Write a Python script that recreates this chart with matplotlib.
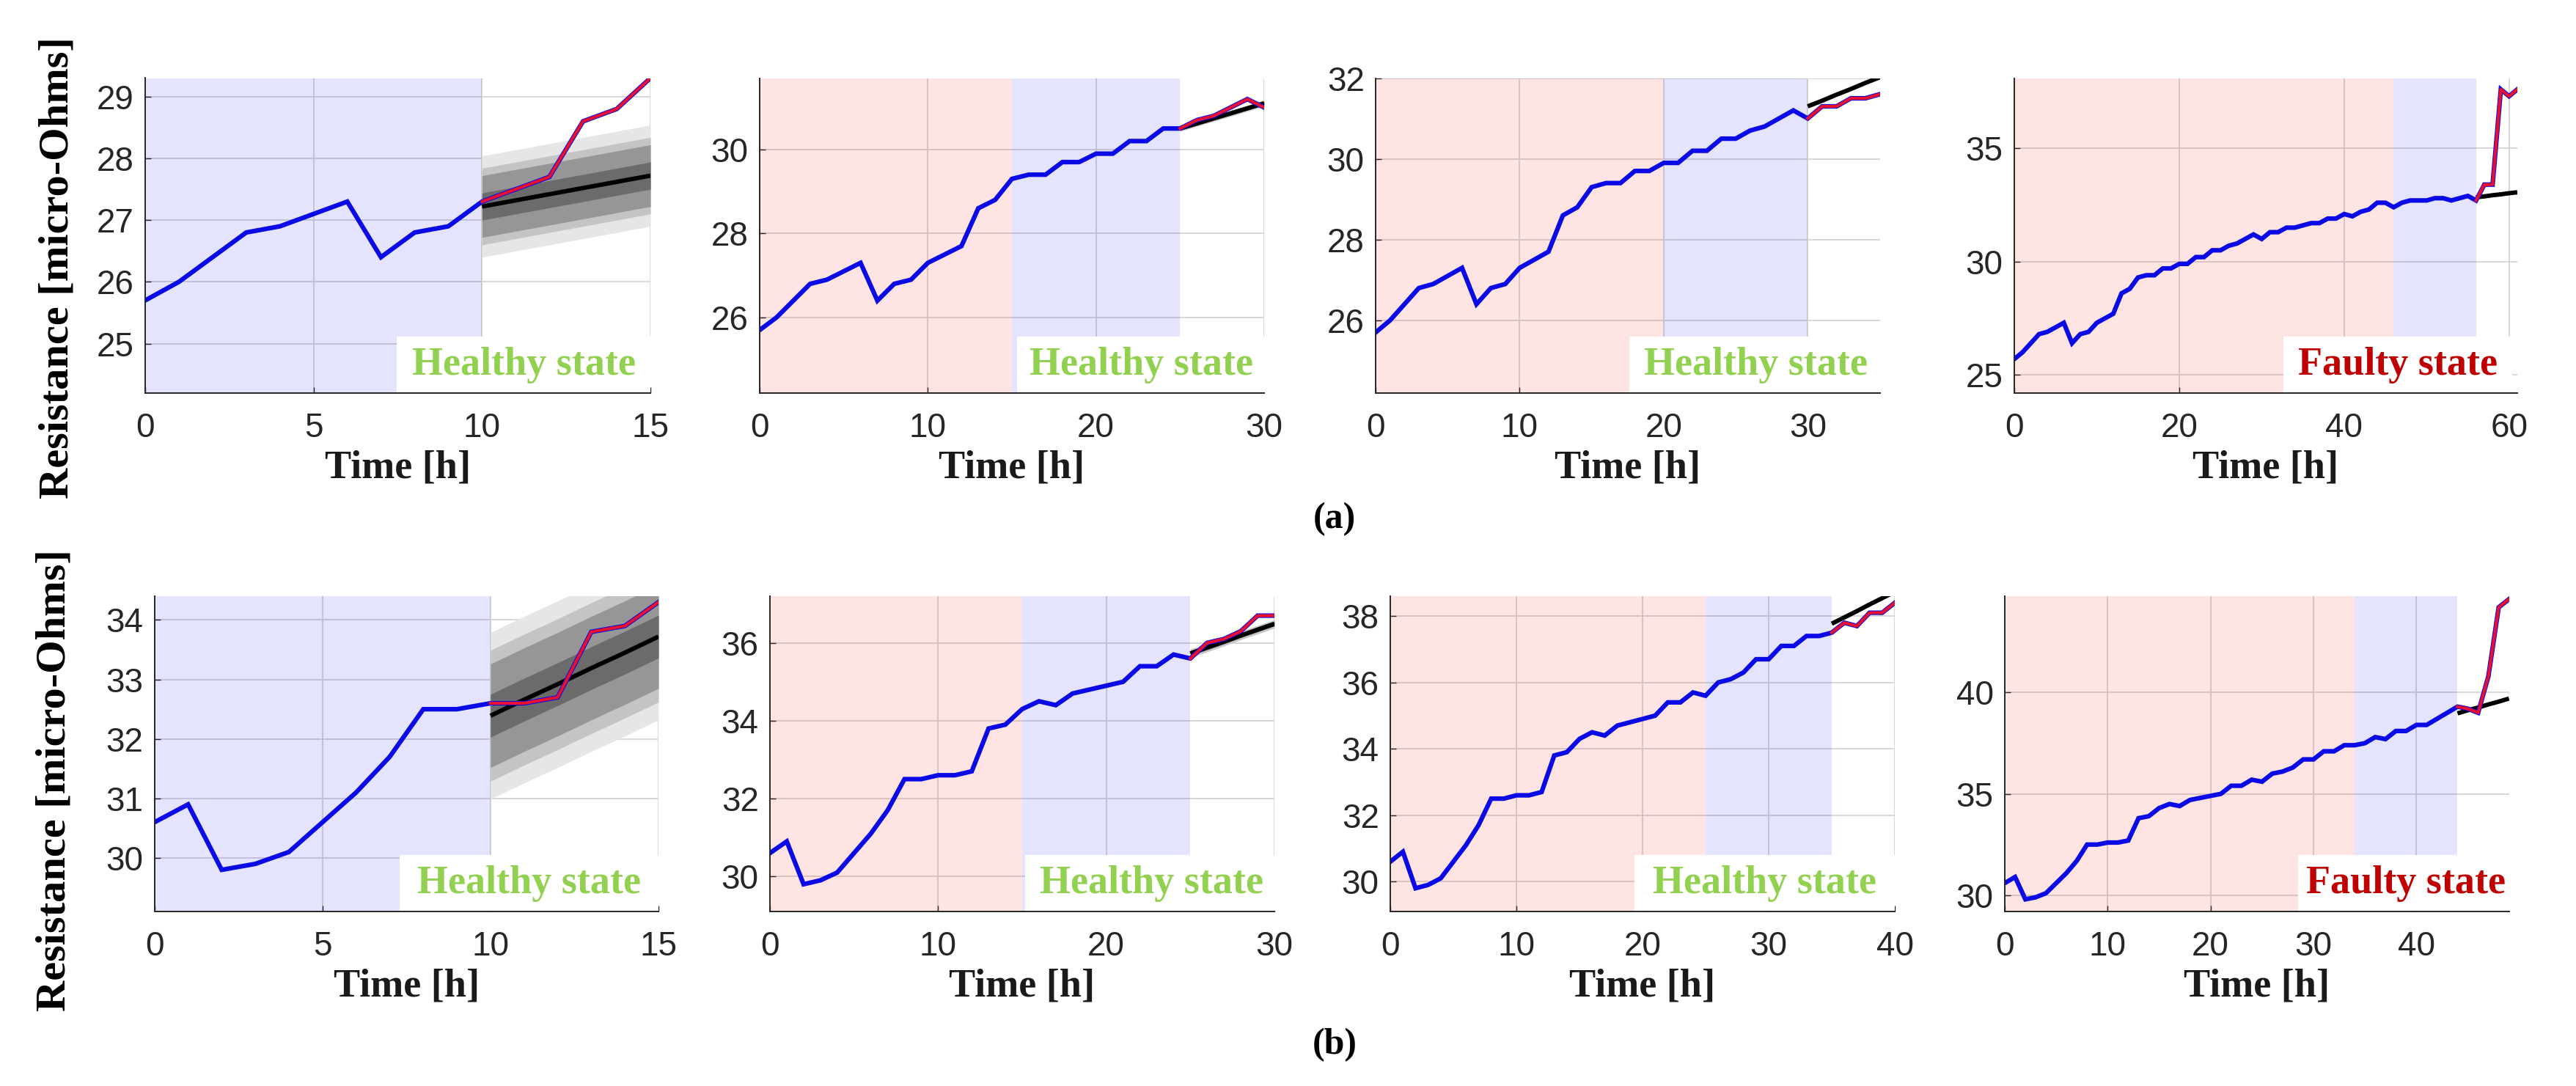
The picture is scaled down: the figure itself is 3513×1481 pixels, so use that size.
import numpy as np
import matplotlib
matplotlib.use("Agg")
import matplotlib.pyplot as plt
from matplotlib.patches import Rectangle

# ---------------- data ----------------
# Measured resistance [micro-Ohms], one value per hour
resistance_a = [25.7, 26.0, 26.4, 26.8, 26.9, 27.1, 27.3, 26.4, 26.8, 26.9,
                27.3, 27.5, 27.7, 28.6, 28.8, 29.3, 29.4, 29.4, 29.7, 29.7,
                29.9, 29.9, 30.2, 30.2, 30.5, 30.5, 30.7, 30.8, 31.0, 31.2,
                31.0, 31.3, 31.3, 31.5, 31.5, 31.6, 31.7, 31.7, 31.9, 31.9,
                32.1, 32.0, 32.2, 32.3, 32.6, 32.6, 32.4, 32.6, 32.7, 32.7,
                32.7, 32.8, 32.8, 32.7, 32.8, 32.9, 32.7, 33.4, 33.4, 37.6,
                37.3, 37.6]
resistance_b = [30.6, 30.9, 29.8, 29.9, 30.1, 30.6, 31.1, 31.7, 32.5, 32.5,
                32.6, 32.6, 32.7, 33.8, 33.9, 34.3, 34.5, 34.4, 34.7, 34.8,
                34.9, 35.0, 35.4, 35.4, 35.7, 35.6, 36.0, 36.1, 36.3, 36.7,
                36.7, 37.1, 37.1, 37.4, 37.4, 37.5, 37.8, 37.7, 38.1, 38.1,
                38.4, 38.4, 38.7, 39.0, 39.3, 39.2, 39.0, 40.8, 44.2, 44.6]

# row (a)
a_history_end = [10, 25, 30, 56]
a_horizon_end = [15, 30, 35, 61]
a_pink = [None, (0, 15), (0, 20), (0, 46)]
a_blue = [(0, 10), (15, 25), (20, 30), (46, 56)]
a_pred = [[27.22, 27.32, 27.42, 27.52, 27.62, 27.72],
          [30.50, 30.62, 30.74, 30.86, 30.98, 31.10],
          [31.30, 31.44, 31.59, 31.73, 31.88, 32.02],
          [32.84, 32.88, 32.93, 32.97, 33.02, 33.06]]
a_band_halfwidth = [[0.82, 0.62, 0.50, 0.22], [0.07, 0.04], [], []]
a_ylim = [(24.2, 29.3), (24.2, 31.7), (24.2, 32.0), (24.2, 38.1)]
a_xmax = [15, 30, 35, 61]
a_xticks = [[0, 5, 10, 15], [0, 10, 20, 30], [0, 10, 20, 30], [0, 20, 40, 60]]
a_yticks = [[25, 26, 27, 28, 29], [26, 28, 30], [26, 28, 30, 32], [25, 30, 35]]
a_state = ["Healthy state", "Healthy state", "Healthy state", "Faulty state"]

# row (b)
b_history_end = [10, 25, 35, 44]
b_horizon_end = [15, 30, 40, 49]
b_pink = [None, (0, 15), (0, 25), (0, 34)]
b_blue = [(0, 10), (15, 25), (25, 35), (34, 44)]
b_pred = [[32.39, 32.66, 32.92, 33.19, 33.45, 33.72],
          [35.73, 35.88, 36.03, 36.19, 36.34, 36.49],
          [37.77, 37.96, 38.15, 38.35, 38.54, 38.73],
          [38.97, 39.12, 39.26, 39.41, 39.55, 39.70]]
b_band_halfwidth = [[1.40, 1.10, 0.87, 0.36], [0.11, 0.06], [], []]
b_ylim = [(29.1, 34.4), (29.1, 37.2), (29.1, 38.6), (29.2, 44.75)]
b_xmax = [15, 30, 40, 49]
b_xticks = [[0, 5, 10, 15], [0, 10, 20, 30], [0, 10, 20, 30, 40], [0, 10, 20, 30, 40]]
b_yticks = [[30, 31, 32, 33, 34], [30, 32, 34, 36], [30, 32, 34, 36, 38], [30, 35, 40]]
b_state = ["Healthy state", "Healthy state", "Healthy state", "Faulty state"]

# ---------------- layout / style ----------------
W, H = 3513, 1481
fig = plt.figure(figsize=(W / 100, H / 100), dpi=100)

a_cols = [(198, 887), (1036, 1724), (1876, 2563.5), (2747, 3433)]
b_cols = [(210.7, 898), (1050, 1738), (1896, 2584), (2734, 3421.6)]
a_rows = (106.5, 536)
b_rows = (813, 1243)
a_box = [(0.498, 1.0), (0.51, 1.004), (0.503, 1.004), (0.535, 0.99)]
b_box = [(0.487, 1.0), (0.506, 1.008), (0.484, 1.0), (0.582, 1.01)]

band_colors4 = ["#e6e6e6", "#c4c4c4", "#969696", "#6b6b6b"]
band_colors2 = ["#c8c8c8", "#8a8a8a"]
AX_COLOR = "#262626"
SANS = ["Liberation Sans", "DejaVu Sans"]
SERIF = ["Liberation Serif", "DejaVu Serif"]


def make_axes(col, row):
    l, r = col
    t, b = row
    return fig.add_axes([l / W, 1 - b / H, (r - l) / W, (b - t) / H])


def draw_panel(ax, series, h_end, f_end, pink, blue, pred, hws, ylim, xmax,
               xt, yt, state, box):
    ax.set_xlim(0, xmax)
    ax.set_ylim(*ylim)
    ax.set_axisbelow(True)
    ax.grid(True, color="#d4d4d4", lw=1.3)
    if pink is not None:
        ax.axvspan(pink[0], pink[1], color="red", alpha=0.105, lw=0, zorder=1)
    ax.axvspan(blue[0], blue[1], color="blue", alpha=0.105, lw=0, zorder=1)

    hours = np.arange(len(series))
    vals = np.array(series)
    t_pred = np.arange(h_end, f_end + 1)
    mean = np.array(pred)
    cols = band_colors4 if len(hws) == 4 else band_colors2
    for hw, c in zip(hws, cols):
        ax.fill_between(t_pred, mean - hw, mean + hw, color=c, lw=0, zorder=2)
    ax.plot(t_pred, mean, color="black", lw=4.3, zorder=3,
            solid_capstyle="butt")
    ax.plot(hours[:f_end + 1], vals[:f_end + 1], color="#0a0ae6", lw=4.5,
            zorder=4, solid_joinstyle="miter")
    ax.plot(hours[h_end:f_end + 1], vals[h_end:f_end + 1], color="#e8102e",
            lw=3.0, zorder=5)

    ax.set_xticks(xt)
    ax.set_yticks(yt)
    for s in ("top", "right"):
        ax.spines[s].set_visible(False)
    for s in ("left", "bottom"):
        ax.spines[s].set_color(AX_COLOR)
        ax.spines[s].set_linewidth(1.4)
        ax.spines[s].set_zorder(7)
    ax.tick_params(direction="in", length=6, width=1.0, color=AX_COLOR,
                   labelcolor=AX_COLOR, labelsize=33)
    ax.tick_params(axis="x", pad=19)
    ax.tick_params(axis="y", pad=11)
    for lab in ax.get_xticklabels() + ax.get_yticklabels():
        lab.set_family(SANS)
    ax.set_xlabel("Time [h]", family=SERIF, fontweight="bold", fontsize=39,
                  color="#1a1a1a", labelpad=5)

    x0, x1 = box
    ax.add_patch(Rectangle((x0, 0), x1 - x0, 0.18, transform=ax.transAxes,
                           facecolor="white", edgecolor="none", zorder=6,
                           clip_on=False))
    tcol = "#92d050" if state.startswith("Healthy") else "#c00000"
    ax.text((x0 + x1) / 2, 0.058, state, transform=ax.transAxes, ha="center",
            va="baseline", family=SERIF, fontweight="bold", fontsize=39,
            color=tcol, zorder=8)


for i in range(4):
    ax = make_axes(a_cols[i], a_rows)
    draw_panel(ax, resistance_a, a_history_end[i], a_horizon_end[i], a_pink[i],
               a_blue[i], a_pred[i], a_band_halfwidth[i], a_ylim[i], a_xmax[i],
               a_xticks[i], a_yticks[i], a_state[i], a_box[i])
    ax = make_axes(b_cols[i], b_rows)
    draw_panel(ax, resistance_b, b_history_end[i], b_horizon_end[i], b_pink[i],
               b_blue[i], b_pred[i], b_band_halfwidth[i], b_ylim[i], b_xmax[i],
               b_xticks[i], b_yticks[i], b_state[i], b_box[i])

# y labels and sub-figure captions
fig.text(78 / W, 1 - 365 / H, "Resistance [micro-Ohms]", rotation=90,
         ha="center", va="center", family=SERIF, fontweight="bold",
         fontsize=42, color="black")
fig.text(75 / W, 1 - 1064 / H, "Resistance [micro-Ohms]", rotation=90,
         ha="center", va="center", family=SERIF, fontweight="bold",
         fontsize=42, color="black")
fig.text(1820 / W, 1 - 708 / H, "(a)", ha="center", va="center", family=SERIF,
         fontweight="bold", fontsize=36, color="black")
fig.text(1820 / W, 1 - 1425 / H, "(b)", ha="center", va="center", family=SERIF,
         fontweight="bold", fontsize=36, color="black")

fig.savefig("out.png", dpi=100, facecolor="white")
